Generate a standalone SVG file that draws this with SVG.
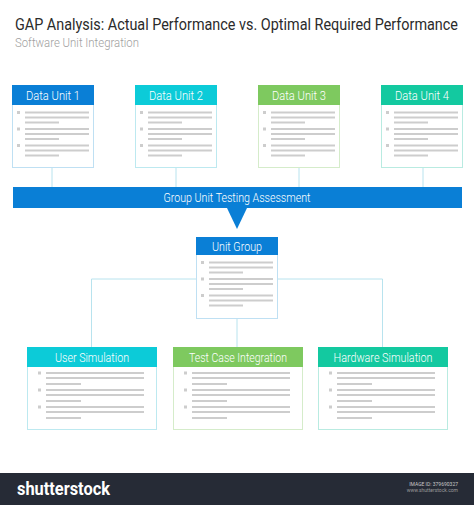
<svg xmlns="http://www.w3.org/2000/svg" xmlns:xlink="http://www.w3.org/1999/xlink" width="474" height="505" viewBox="0 0 474 505">
<style>
  text { font-family: Roboto, "Liberation Sans", sans-serif; }
  .title { font-size: 14.5px; fill: #2b2b2b; }
  .sub { font-size: 12px; fill: #a0a0a0; font-weight: 300; }
  .hdr { font-size: 12.5px; fill: #ffffff; text-anchor: middle; font-weight: 300; }
  .body { fill: #ffffff; stroke-width: 1; }
  .ln { stroke: #cdcdcd; stroke-width: 2; }
  .bul { fill: #cdcdcd; }
  .conn { stroke: #b8e3ee; stroke-width: 1; fill: none; }
</style>
<defs>
  <g id="linesS">
    <rect class="bul" x="5" y="26" width="3" height="3"/>
    <line class="ln" x1="13" y1="27.5" x2="77" y2="27.5"/>
    <line class="ln" x1="13" y1="32.5" x2="77" y2="32.5"/>
    <line class="ln" x1="13" y1="37.5" x2="47" y2="37.5"/>
    <rect class="bul" x="5" y="42.5" width="3" height="3"/>
    <line class="ln" x1="13" y1="44" x2="77" y2="44"/>
    <line class="ln" x1="13" y1="49" x2="77" y2="49"/>
    <line class="ln" x1="13" y1="54" x2="47" y2="54"/>
    <rect class="bul" x="5" y="59" width="3" height="3"/>
    <line class="ln" x1="13" y1="60.5" x2="77" y2="60.5"/>
    <line class="ln" x1="13" y1="65.5" x2="77" y2="65.5"/>
    <line class="ln" x1="13" y1="70.5" x2="47" y2="70.5"/>
  </g>
  <g id="linesL">
    <rect class="bul" x="11" y="24.5" width="3" height="3"/>
    <line class="ln" x1="19" y1="26" x2="117" y2="26"/>
    <line class="ln" x1="19" y1="31" x2="117" y2="31"/>
    <line class="ln" x1="19" y1="37" x2="54" y2="37"/>
    <rect class="bul" x="11" y="41.5" width="3" height="3"/>
    <line class="ln" x1="19" y1="43" x2="117" y2="43"/>
    <line class="ln" x1="19" y1="48" x2="117" y2="48"/>
    <line class="ln" x1="19" y1="54" x2="54" y2="54"/>
    <rect class="bul" x="11" y="58.5" width="3" height="3"/>
    <line class="ln" x1="19" y1="60" x2="117" y2="60"/>
    <line class="ln" x1="19" y1="65" x2="117" y2="65"/>
    <line class="ln" x1="19" y1="71" x2="54" y2="71"/>
  </g>
</defs>
<rect x="0" y="0" width="474" height="505" fill="#ffffff"/>

<g id="title">
  <text class="title" x="0" y="0" transform="translate(15,30) scale(1,1.15)" textLength="443" lengthAdjust="spacingAndGlyphs">GAP Analysis: Actual Performance vs. Optimal Required Performance</text>
  <text class="sub" x="15" y="47" textLength="124" lengthAdjust="spacingAndGlyphs">Software Unit Integration</text>
</g>

<g id="connectors">
  <line class="conn" x1="52" y1="167" x2="52" y2="187"/>
  <line class="conn" x1="176" y1="167" x2="176" y2="187"/>
  <line class="conn" x1="299" y1="167" x2="299" y2="187"/>
  <line class="conn" x1="423" y1="167" x2="423" y2="187"/>
  <polyline class="conn" points="196,279 91.5,279 91.5,347"/>
  <polyline class="conn" points="278,279 382.5,279 382.5,347"/>
  <line class="conn" x1="237" y1="318" x2="237" y2="347"/>
  <polygon points="227,208 247,208 237,229" fill="#0a7fd6"/>
</g>

<g id="data-unit-1">
  <rect class="body" x="12.5" y="85.5" width="81" height="82" stroke="#bfe0f3"/>
  <rect x="12" y="85" width="82" height="20" fill="#0a7fd6"/>
  <text class="hdr" x="53" y="100" textLength="54" lengthAdjust="spacingAndGlyphs">Data Unit 1</text>
  <use xlink:href="#linesS" x="12" y="85"/>
</g>
<g id="data-unit-2">
  <rect class="body" x="135.5" y="85.5" width="81" height="82" stroke="#bde9f0"/>
  <rect x="135" y="85" width="82" height="20" fill="#0ccbd8"/>
  <text class="hdr" x="176" y="100" textLength="54" lengthAdjust="spacingAndGlyphs">Data Unit 2</text>
  <use xlink:href="#linesS" x="135" y="85"/>
</g>
<g id="data-unit-3">
  <rect class="body" x="258.5" y="85.5" width="81" height="82" stroke="#d5ecca"/>
  <rect x="258" y="85" width="82" height="20" fill="#7ec95f"/>
  <text class="hdr" x="299" y="100" textLength="54" lengthAdjust="spacingAndGlyphs">Data Unit 3</text>
  <use xlink:href="#linesS" x="258" y="85"/>
</g>
<g id="data-unit-4">
  <rect class="body" x="381.5" y="85.5" width="81" height="82" stroke="#b9ebe1"/>
  <rect x="381" y="85" width="82" height="20" fill="#13c9a0"/>
  <text class="hdr" x="422" y="100" textLength="54" lengthAdjust="spacingAndGlyphs">Data Unit 4</text>
  <use xlink:href="#linesS" x="381" y="85"/>
</g>

<g id="assessment-bar">
  <rect x="13" y="187" width="449" height="21" fill="#0a7fd6"/>
  <text class="hdr" x="237" y="202" textLength="147" lengthAdjust="spacingAndGlyphs">Group Unit Testing Assessment</text>
</g>

<g id="unit-group">
  <rect class="body" x="196.5" y="237.5" width="81" height="81" stroke="#bfe0f3"/>
  <rect x="196" y="237" width="82" height="18" fill="#0a7fd6"/>
  <text class="hdr" x="237" y="251" textLength="50" lengthAdjust="spacingAndGlyphs">Unit Group</text>
  <use xlink:href="#linesS" x="196" y="235"/>
</g>

<g id="user-simulation">
  <rect class="body" x="27.5" y="347.5" width="129" height="82" stroke="#bde9f0"/>
  <rect x="27" y="347" width="130" height="20" fill="#0ccbd8"/>
  <text class="hdr" x="92" y="362" textLength="74" lengthAdjust="spacingAndGlyphs">User Simulation</text>
  <use xlink:href="#linesL" x="27" y="347"/>
</g>
<g id="test-case-integration">
  <rect class="body" x="173.5" y="347.5" width="129" height="82" stroke="#d5ecca"/>
  <rect x="173" y="347" width="130" height="20" fill="#7ec95f"/>
  <text class="hdr" x="238" y="362" textLength="98" lengthAdjust="spacingAndGlyphs">Test Case Integration</text>
  <use xlink:href="#linesL" x="173" y="347"/>
</g>
<g id="hardware-simulation">
  <rect class="body" x="318.5" y="347.5" width="129" height="82" stroke="#b9ebe1"/>
  <rect x="318" y="347" width="130" height="20" fill="#13c9a0"/>
  <text class="hdr" x="383" y="362" textLength="99" lengthAdjust="spacingAndGlyphs">Hardware Simulation</text>
  <use xlink:href="#linesL" x="318" y="347"/>
</g>

<g id="footer">
  <rect x="0" y="473" width="474" height="32" fill="#262b36"/>
  <text x="17" y="495" font-size="18" font-weight="bold" fill="#ffffff" textLength="93" lengthAdjust="spacingAndGlyphs">shutterstock</text>
  <text x="458" y="486" font-size="5" fill="#c8c8c8" text-anchor="end">IMAGE ID: 379690327</text>
  <text x="458" y="492" font-size="5" fill="#9a9a9a" text-anchor="end">www.shutterstock.com</text>
</g>
</svg>
